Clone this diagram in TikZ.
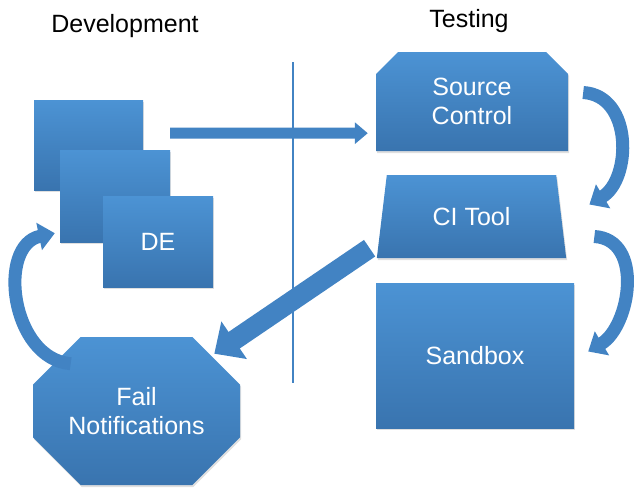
\documentclass[tikz,border=0pt]{standalone}
\usepackage{fontspec}
\setmainfont{Liberation Sans}
\usetikzlibrary{shapes.geometric,shapes.misc,arrows.meta,calc,shadows}
\definecolor{boxtop}{RGB}{76,147,212}
\definecolor{boxbot}{RGB}{57,116,175}
\definecolor{flowblue}{RGB}{66,131,195}
\tikzset{
  box/.style={top color=boxtop, bottom color=boxbot, inner sep=0pt, text=white,
    align=center, font=\fontsize{25}{29}\selectfont,
    drop shadow={opacity=0.25, shadow xshift=1pt, shadow yshift=-2pt}},
  heading/.style={font=\fontsize{25}{29}\selectfont},
  flowthin/.style={draw=flowblue, line width=11pt, -{Triangle[width=21pt,length=13pt]}},
  flowthick/.style={draw=flowblue, line width=20pt, -{Triangle[width=44pt,length=24pt]}},
  flowcurve/.style={draw=flowblue, line width=13pt, -{Triangle[width=27pt,length=16pt]}},
}
\begin{document}
\begin{tikzpicture}[x=1pt, y=-1pt]
    \useasboundingbox (0,0) rectangle (640,488);

    \node[heading] (dev) at (125,26) {Development};
    \node[heading] (test) at (469,21) {Testing};

    % the three stacked environments
    \node[box, minimum width=109pt, minimum height=90pt] (r1) at (88.5,145) {};
    \node[box, minimum width=110pt, minimum height=92pt] (r2) at (115,196) {};
    \node[box, minimum width=110pt, minimum height=91pt] (r3) at (158,241.5) {DE};

    \node[box, chamfered rectangle, chamfered rectangle xsep=11pt, chamfered rectangle ysep=11pt,
          chamfered rectangle corners={north west,north east},
          minimum width=192pt, minimum height=99pt] (sc) at (472,101.5) {Source\\Control};
    \node[box, trapezium, trapezium left angle=76, trapezium right angle=76,
          trapezium stretches=true, minimum width=191pt, minimum height=83pt] (ci) at (471.5,216.5) {CI Tool};
    \node[box, minimum width=198pt, minimum height=145pt] (sb) at (475,355.5) {Sandbox};
    \node[box, chamfered rectangle, chamfered rectangle xsep=24pt, chamfered rectangle ysep=24pt,
          minimum width=207pt, minimum height=148pt] (fn) at (136.5,411) {Fail\\Notifications};

    % divider
    \coordinate (divtop) at (293,62);
    \coordinate (divbot) at (293,383);
    \draw[flowblue, line width=2.5pt] (divtop) -- (divbot);

    % arrows
    \draw[flowthin] ([xshift=27pt,yshift=12pt]r1.east) -- ([xshift=-8pt,yshift=18pt]sc.south west);
    \draw[flowthick] ([xshift=-7pt,yshift=10pt]ci.bottom left corner) -- ($(fn.north east)+(-2,-7)$);
    \draw[flowcurve] ($(sc.east)+(15,-9)$) .. controls +(50,3) and +(42,-25) .. ($(ci.east)+(28,-12)$);
    \draw[flowcurve] ($(ci.east)+(33,20)$) .. controls +(50,3) and +(42,-25) .. ($(sb.east)+(14,-4)$);
    \draw[flowcurve] ($(fn.north west)+(14,3)$) .. controls +(-60,-5) and +(-58,12) .. ($(r2.south west)+(-5,-9)$);
\end{tikzpicture}
\end{document}
